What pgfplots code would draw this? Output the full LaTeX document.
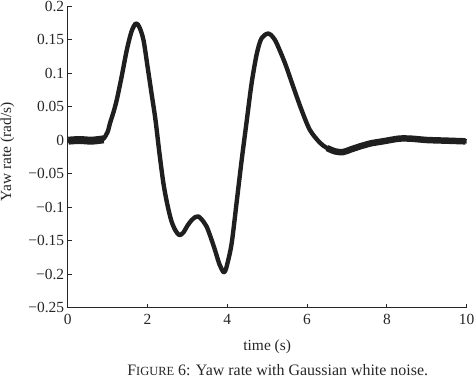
\documentclass[border=0pt]{standalone}
\usepackage{fontspec}
\setmainfont{Liberation Serif}
\usepackage{pgfplots}
\pgfplotsset{compat=1.18}
\pgfplotstableread{
t v
0 -0.001
0.2 0.000
0.4 -0.002
0.6 0.000
0.8 -0.001
0.9 0.002
1.0 0.012
1.06 0.025
1.15 0.042
1.23 0.060
1.35 0.094
1.48 0.134
1.6 0.162
1.71 0.174
1.8 0.168
1.9 0.149
2.0 0.110
2.1 0.070
2.2 0.030
2.3 -0.020
2.4 -0.065
2.5 -0.097
2.6 -0.121
2.7 -0.135
2.8 -0.142
2.9 -0.138
3.0 -0.128
3.1 -0.120
3.2 -0.115
3.27 -0.114
3.35 -0.118
3.48 -0.129
3.6 -0.148
3.69 -0.164
3.8 -0.185
3.9 -0.197
3.95 -0.195
4.0 -0.185
4.11 -0.154
4.24 -0.090
4.36 -0.030
4.49 0.030
4.61 0.085
4.74 0.129
4.86 0.152
5.03 0.159
5.15 0.153
5.24 0.144
5.45 0.114
5.65 0.080
5.86 0.045
6.07 0.015
6.32 -0.004
6.5 -0.012
6.7 -0.017
6.9 -0.018
7.1 -0.014
7.3 -0.010
7.6 -0.005
7.9 -0.002
8.3 0.002
8.6 0.002
9.0 0.000
9.5 -0.001
10 -0.002
}\yawdata
\begin{document}
\begin{tikzpicture}
\begin{axis}[
  at={(0,0)}, anchor=south west,
  scale only axis, width=399bp, height=301.5bp,
  xmin=0, xmax=10, ymin=-0.25, ymax=0.2,
  axis x line=bottom, axis y line=left,
  axis line style={-, line width=0.9pt, black!85},
  xtick={0,2,4,6,8,10},
  ytick={-0.25,-0.2,-0.15,-0.1,-0.05,0,0.05,0.1,0.15,0.2},
  yticklabels={−0.25,−0.2,−0.15,−0.1,−0.05,0,0.05,0.1,0.15,0.2},
  /pgf/number format/assume math mode=true,
  tick align=inside, major tick length=4bp,
  tick style={line width=0.9pt, black!85},
  tick label style={font=\fontsize{15.5}{18}\selectfont, black!85},
  x tick label style={yshift=-3bp},
  xlabel={time (s)}, ylabel={Yaw rate (rad/s)},
  label style={font=\fontsize{15.5}{18}\selectfont, black!85},
  xlabel style={at={(axis description cs:0.5,-0.130)}, anchor=center},
  ylabel style={at={(axis description cs:-0.151,0.517)}, anchor=center, rotate=0},
  clip=false,
]
% noisy band in the flat stretches (band width)
\addplot[line width=8pt, color=black!88, smooth, tension=0.5] coordinates {
  (0.02,-0.001) (0.3,0.000) (0.6,-0.001) (0.9,0.001)};
\addplot[line width=6.5pt, color=black!88, smooth, tension=0.5] coordinates {
  (6.5,-0.012) (6.7,-0.017) (6.9,-0.018) (7.1,-0.014) (7.3,-0.010)
  (7.6,-0.005) (7.9,-0.002) (8.3,0.002) (8.6,0.002) (9.0,0.000) (9.5,-0.001) (9.97,-0.002)};
\addplot[line width=4.4pt, color=black!88, line join=round, smooth, tension=0.5] table[x=t, y=v] {\yawdata};
\end{axis}
\node[anchor=base, inner sep=0pt, font=\fontsize{16}{19}\selectfont, black!85] at (210bp,-68bp)
  {F{\fontsize{12.5}{15}\selectfont IGURE} 6: Yaw rate with Gaussian white noise.};
\pgfresetboundingbox
\useasboundingbox (-67.7bp,-70.5bp) rectangle (406.3bp,307.5bp);
\end{tikzpicture}
\end{document}
